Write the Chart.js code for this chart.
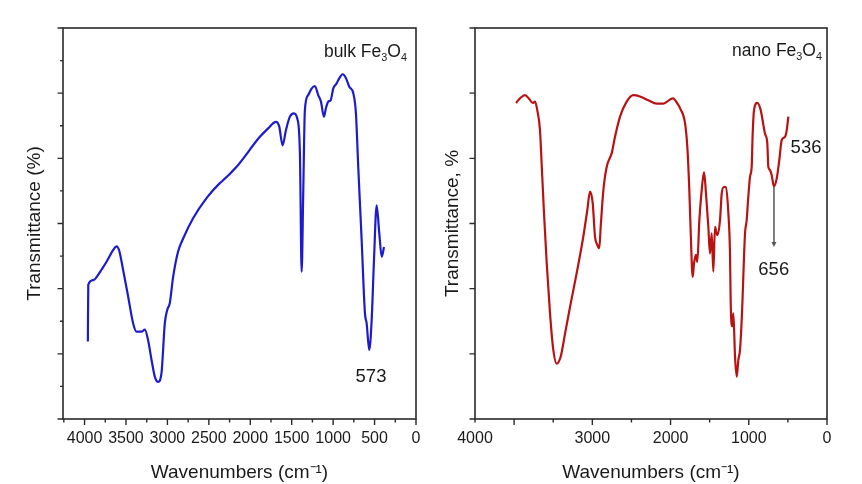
<!DOCTYPE html>
<html>
<head>
<meta charset="utf-8">
<script src="https://cdn.jsdelivr.net/npm/chart.js@4/dist/chart.umd.min.js"></script>
<style>
  html, body { margin: 0; padding: 0; background: #ffffff; }
  #wrap { position: relative; width: 862px; height: 484px; }
  .panel { position: absolute; top: 0; width: 431px; height: 484px; }
  #p1 { left: 0; }
  #p2 { left: 431px; }
</style>
</head>
<body>
<div id="wrap">
  <div class="panel" id="p1"><canvas id="c1" width="431" height="484"></canvas></div>
  <div class="panel" id="p2"><canvas id="c2" width="431" height="484"></canvas></div>
</div>
<script>
// ---------- data ----------
const bulkWavenumber = [3960, 3955, 3897, 3837, 3796, 3736, 3656, 3615, 3583, 3535, 3474, 3414, 3373, 3313, 3273, 3233, 3192, 3152, 3112, 3072, 3031, 3003, 2971, 2931, 2871, 2810, 2690, 2528, 2367, 2347, 2165, 1884, 1784, 1691, 1651, 1610, 1570, 1522, 1473, 1433, 1401, 1380, 1361, 1341, 1301, 1260, 1220, 1180, 1147, 1111, 1087, 1059, 1030, 999, 958, 938, 885, 845, 805, 757, 725, 697, 656, 616, 596, 564, 535, 507, 475, 443, 414, 386];
const bulkTransmittance = [11.9, 20.6, 21.3, 22.1, 22.9, 24.1, 25.9, 26.5, 25.9, 22.9, 18.8, 14.7, 13.4, 13.4, 13.7, 12.1, 9.1, 6.5, 5.7, 7.0, 14.7, 16.7, 17.8, 21.8, 25.7, 27.7, 30.8, 33.9, 36.2, 36.4, 38.7, 43.3, 44.6, 45.6, 44.9, 42.0, 44.3, 46.4, 46.9, 46.1, 40.8, 22.6, 34.6, 47.4, 49.7, 50.7, 51.1, 49.7, 48.7, 46.4, 47.7, 48.7, 48.9, 50.7, 51.5, 52.0, 52.9, 52.3, 51.0, 50.0, 46.9, 38.7, 27.5, 16.2, 14.7, 10.6, 15.2, 24.4, 32.8, 28.5, 24.9, 26.4];

const nanoWavenumber = [3976, 3925, 3861, 3806, 3763, 3733, 3704, 3669, 3648, 3618, 3583, 3541, 3499, 3456, 3404, 3349, 3285, 3200, 3115, 3064, 3030, 2995, 2966, 2936, 2911, 2893, 2859, 2816, 2752, 2710, 2646, 2561, 2476, 2391, 2284, 2177, 2093, 1973, 1901, 1879, 1815, 1786, 1760, 1742, 1717, 1700, 1675, 1658, 1632, 1602, 1572, 1547, 1517, 1496, 1474, 1453, 1432, 1402, 1368, 1346, 1317, 1291, 1261, 1240, 1231, 1214, 1197, 1176, 1154, 1133, 1112, 1087, 1048, 1027, 1006, 984, 963, 950, 933, 891, 848, 793, 763, 750, 729, 707, 678, 643, 610, 579, 537, 515, 494];
const nanoTransmittance = [48.5, 49.2, 49.7, 49.1, 48.5, 48.7, 47.4, 44.3, 39.2, 31.6, 23.9, 16.2, 10.6, 8.5, 9.6, 13.1, 17.2, 22.4, 28.0, 32.1, 34.9, 33.1, 28.0, 26.7, 26.2, 29.5, 35.1, 38.7, 40.8, 43.3, 46.4, 48.7, 49.7, 49.5, 48.9, 48.4, 48.4, 49.2, 48.2, 47.7, 45.4, 41.8, 35.1, 28.5, 21.8, 23.9, 25.2, 24.1, 30.5, 35.1, 37.9, 34.6, 29.5, 25.4, 28.5, 22.6, 29.5, 28.2, 30.5, 34.6, 35.6, 35.6, 31.6, 25.4, 17.8, 14.2, 16.2, 9.6, 6.5, 9.1, 10.6, 16.2, 28.5, 30.5, 34.1, 37.2, 38.7, 43.8, 47.4, 48.5, 47.4, 43.8, 42.3, 38.7, 38.2, 37.4, 35.7, 36.9, 39.7, 42.8, 43.3, 44.3, 46.4];

// tick labels
const bulkTickValues = [4000, 3500, 3000, 2500, 2000, 1500, 1000, 500, 0];
const bulkTickLabels = ['4000', '3500', '3000', '2500', '2000', '1500', '1000', '500', '0'];
const nanoTickValues = [4500, 3000, 2000, 1000, 0];
const nanoTickLabels = ['4000', '3000', '2000', '1000', '0'];

// annotations (anchored in data space)
const bulkNotes = [
  { parts: [['bulk Fe', 0], ['3', 1], ['O', 0], ['4', 1]], x: 109, y: 55.5, align: 'right', size: 17.5 },
  { parts: [['573', 0]], x: 543, y: 6.4, align: 'center', size: 18.5, middle: true }
];
const nanoNotes = [
  { parts: [['nano Fe', 0], ['3', 1], ['O', 0], ['4', 1]], x: 64, y: 55.7, align: 'right', size: 17.5 },
  { parts: [['536', 0]], x: 268, y: 41.6, align: 'center', size: 18.5, middle: true },
  { parts: [['656', 0]], x: 681, y: 22.9, align: 'center', size: 18.5, middle: true }
];
const nanoArrow = { x: 678, yFrom: 35.6, yTo: 26.4 };

const FONT = "Arial, 'Liberation Sans', Helvetica, sans-serif";
const TEXT = '#1a1a1a';

function drawNotes(chart, notes) {
  const ctx = chart.ctx, xs = chart.scales.x, ys = chart.scales.y;
  ctx.save();
  ctx.fillStyle = TEXT;
  notes.forEach(n => {
    const px = xs.getPixelForValue(n.x), py = ys.getPixelForValue(n.y);
    const subSize = n.size * 0.62;
    let total = 0;
    n.parts.forEach(([t, sub]) => {
      ctx.font = (sub ? subSize : n.size) + 'px ' + FONT;
      total += ctx.measureText(t).width;
    });
    let x = n.align === 'right' ? px - total : px - total / 2;
    ctx.textBaseline = n.middle ? 'middle' : 'alphabetic';
    ctx.textAlign = 'left';
    n.parts.forEach(([t, sub]) => {
      ctx.font = (sub ? subSize : n.size) + 'px ' + FONT;
      ctx.fillText(t, x, py + (sub ? 4 : 0));
      x += ctx.measureText(t).width;
    });
  });
  ctx.restore();
}

function frameAndTicks(chart, xMinor, xMajor, yMinor, yMajor) {
  const ctx = chart.ctx, a = chart.chartArea, xs = chart.scales.x, ys = chart.scales.y;
  ctx.save();
  ctx.strokeStyle = '#2a2a2a';
  ctx.lineWidth = 1.6;
  ctx.strokeRect(a.left, a.top, a.right - a.left, a.bottom - a.top);
  ctx.lineWidth = 1.4;
  ctx.beginPath();
  for (let v = 0; v <= xs.max + 1e-6; v += xMinor) {
    const px = xs.getPixelForValue(v);
    const major = Math.abs(v / xMajor - Math.round(v / xMajor)) < 1e-6;
    ctx.moveTo(px, a.bottom);
    ctx.lineTo(px, a.bottom + (major ? 6 : 3.5));
  }
  for (let v = 0; v <= ys.max + 1e-6; v += yMinor) {
    const py = ys.getPixelForValue(v);
    const major = Math.abs(v / yMajor - Math.round(v / yMajor)) < 1e-6;
    ctx.moveTo(a.left, py);
    ctx.lineTo(a.left - (major ? 5.5 : 3), py);
  }
  ctx.stroke();
  ctx.restore();
}

function makeChart(id, opts) {
  const points = opts.wn.map((w, i) => ({ x: w, y: opts.tr[i] }));
  return new Chart(document.getElementById(id), {
    type: 'line',
    data: { datasets: [{
      data: points,
      borderColor: opts.color,
      borderWidth: 2.2,
      pointRadius: 0,
      cubicInterpolationMode: 'monotone',
      fill: false
    }] },
    options: {
      responsive: false,
      animation: false,
      events: [],
      layout: { padding: { top: 28, right: opts.padRight, bottom: 0, left: 0 } },
      plugins: { legend: { display: false }, tooltip: { enabled: false } },
      scales: {
        x: {
          type: 'linear', reverse: true, min: 0, max: opts.xMax,
          afterFit: s => { s.height = 65; },
          afterBuildTicks: s => { s.ticks = opts.tickValues.map(v => ({ value: v })); },
          grid: { display: false, drawTicks: false },
          border: { display: false },
          ticks: {
            autoSkip: false, maxRotation: 0, padding: 10,
            color: TEXT, font: { family: FONT, size: 16 },
            callback: v => { const i = opts.tickValues.indexOf(v); return i >= 0 ? opts.tickLabels[i] : ''; }
          },
          title: {
            display: true, text: 'Wavenumbers (cm\u207B\u00B9)', color: TEXT,
            font: { family: FONT, size: 19 }, padding: { top: 5.5, bottom: 0 }
          }
        },
        y: {
          type: 'linear', min: 0, max: 60,
          afterFit: s => { s.width = opts.yWidth; },
          grid: { display: false, drawTicks: false },
          border: { display: false },
          ticks: { display: false, stepSize: 10 },
          title: {
            display: true, text: opts.yTitle, color: TEXT,
            font: { family: FONT, size: 19 }, padding: { top: opts.yTitlePad, bottom: 0 }
          }
        }
      }
    },
    plugins: [{
      id: 'decor',
      afterDraw: chart => {
        frameAndTicks(chart, opts.xMinor, opts.xMajor, opts.yMinor, 10);
        drawNotes(chart, opts.notes);
        if (opts.arrow) {
          const ctx = chart.ctx, xs = chart.scales.x, ys = chart.scales.y;
          const px = xs.getPixelForValue(opts.arrow.x);
          const y1 = ys.getPixelForValue(opts.arrow.yFrom), y2 = ys.getPixelForValue(opts.arrow.yTo);
          ctx.save();
          ctx.strokeStyle = '#555555'; ctx.fillStyle = '#555555'; ctx.lineWidth = 1.5;
          ctx.beginPath(); ctx.moveTo(px, y1); ctx.lineTo(px, y2 - 4); ctx.stroke();
          ctx.beginPath(); ctx.moveTo(px - 2.5, y2 - 5); ctx.lineTo(px + 2.5, y2 - 5); ctx.lineTo(px, y2); ctx.closePath(); ctx.fill();
          ctx.restore();
        }
      }
    }]
  });
}

makeChart('c1', {
  wn: bulkWavenumber, tr: bulkTransmittance, color: 'rgb(28,28,205)',
  xMax: 4260, padRight: 15, yWidth: 63, yTitle: 'Transmittance (%)', yTitlePad: 23.5,
  tickValues: bulkTickValues, tickLabels: bulkTickLabels,
  xMinor: 250, xMajor: 500, yMinor: 5, notes: bulkNotes
});
makeChart('c2', {
  wn: nanoWavenumber, tr: nanoTransmittance, color: 'rgb(185,18,18)',
  xMax: 4500, padRight: 35, yWidth: 44, yTitle: 'Transmittance, %', yTitlePad: 10,
  tickValues: nanoTickValues, tickLabels: nanoTickLabels,
  xMinor: 500, xMajor: 1000, yMinor: 10, notes: nanoNotes, arrow: nanoArrow
});
</script>
</body>
</html>
